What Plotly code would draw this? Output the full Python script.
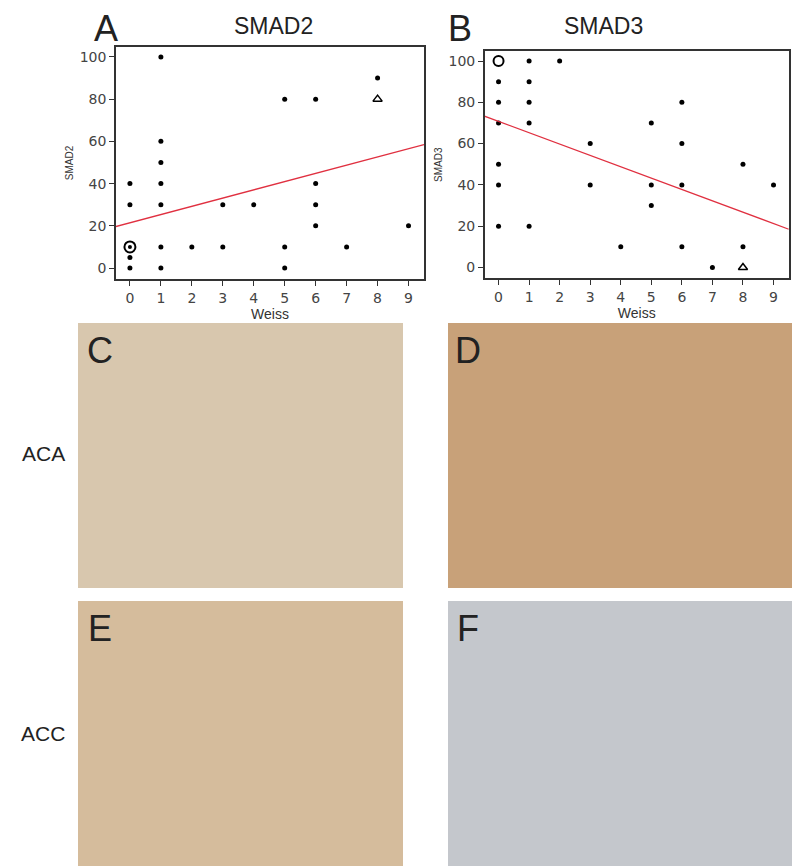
import plotly.graph_objects as go

# SMAD2 data (panel A)
a_x = [0,0,0,0,1,1,1,1,1,1,1,2,3,3,4,5,5,5,6,6,6,6,7,8,9]
a_y = [40,30,5,0,100,60,50,40,30,10,0,10,30,10,30,80,10,0,80,40,30,20,10,90,20]
a_circ_x = [0]; a_circ_y = [10]
a_tri_x = [8]; a_tri_y = [80]
a_line_x = [-0.5, 9.5]; a_line_y = [19.5, 58.5]

# SMAD3 data (panel B)
b_x = [0,0,0,0,0,0,1,1,1,1,1,2,3,3,4,5,5,5,6,6,6,6,7,8,8,9]
b_y = [90,80,70,50,40,20,100,90,80,70,20,100,60,40,10,70,40,30,80,60,40,10,0,50,10,40]
b_circ_x = [0]; b_circ_y = [100]
b_tri_x = [8]; b_tri_y = [0]
b_line_x = [-0.5, 9.5]; b_line_y = [73.5, 18.5]

ticks_x = list(range(10))
ticks_y = [0,20,40,60,80,100]

fig = go.Figure()
dot = dict(color='black', size=5)
fig.add_trace(go.Scatter(x=a_x, y=a_y, mode='markers', marker=dot, xaxis='x', yaxis='y'))
fig.add_trace(go.Scatter(x=a_circ_x, y=a_circ_y, mode='markers', marker=dict(color='black', size=4), xaxis='x', yaxis='y'))
fig.add_trace(go.Scatter(x=a_circ_x, y=a_circ_y, mode='markers', marker=dict(symbol='circle-open', color='black', size=11, line=dict(width=2)), xaxis='x', yaxis='y'))
fig.add_trace(go.Scatter(x=a_tri_x, y=a_tri_y, mode='markers', marker=dict(symbol='triangle-up-open', color='black', size=8, line=dict(width=1.5)), xaxis='x', yaxis='y'))
fig.add_trace(go.Scatter(x=a_line_x, y=a_line_y, mode='lines', line=dict(color='#e03040', width=1.3), xaxis='x', yaxis='y'))

fig.add_trace(go.Scatter(x=b_x, y=b_y, mode='markers', marker=dot, xaxis='x2', yaxis='y2'))
fig.add_trace(go.Scatter(x=b_circ_x, y=b_circ_y, mode='markers', marker=dict(symbol='circle-open', color='black', size=10, line=dict(width=2)), xaxis='x2', yaxis='y2'))
fig.add_trace(go.Scatter(x=b_tri_x, y=b_tri_y, mode='markers', marker=dict(symbol='triangle-up-open', color='black', size=8, line=dict(width=1.5)), xaxis='x2', yaxis='y2'))
fig.add_trace(go.Scatter(x=b_line_x, y=b_line_y, mode='lines', line=dict(color='#e03040', width=1.3), xaxis='x2', yaxis='y2'))

ax = dict(range=[-0.45, 9.5], tickvals=ticks_x, ticks='outside', ticklen=5, tickcolor='#333',
          showgrid=False, zeroline=False, showline=True, linecolor='#333', linewidth=1.5, mirror=True,
          tickfont=dict(family='DejaVu Sans', size=14, color='#444'),
          title=dict(text='Weiss', font=dict(family='Liberation Sans', size=14, color='#333'), standoff=0))
ay = dict(range=[-5.2, 104.7], tickvals=ticks_y, ticks='outside', ticklen=5, tickcolor='#333',
          showgrid=False, zeroline=False, showline=True, linecolor='#333', linewidth=1.5, mirror=True,
          tickfont=dict(family='DejaVu Sans', size=14, color='#444'))

fig.update_layout(
    width=800, height=866, margin=dict(l=0, r=0, t=0, b=0), showlegend=False,
    plot_bgcolor='white', paper_bgcolor='white',
    xaxis=dict(ax, domain=[0.135, 0.52], anchor='y'),
    yaxis=dict(ay, domain=[0.687, 0.955], anchor='x', title=dict(text='SMAD2', font=dict(family='Liberation Sans', size=10, color='#333'), standoff=4)),
    xaxis2=dict(ax, domain=[0.596, 0.976], anchor='y2'),
    yaxis2=dict(ay, domain=[0.688, 0.950], anchor='x2', title=dict(text='SMAD3', font=dict(family='Liberation Sans', size=10, color='#333'), standoff=4)),
)

# Photo panels (approximated by tinted rectangles)
photos = [(70,395,315,580,'#d8c7ae'), (440,793,315,580,'#c8a179'),
          (70,395,593,860,'#d5bc9c'), (440,793,593,860,'#c4c7cc')]
for x0,x1,y0,y1,c in photos:
    fig.add_shape(type='rect', xref='paper', yref='paper', x0=x0/800, x1=x1/800,
                  y0=1-y1/866, y1=1-y0/866, fillcolor=c, line=dict(width=0), layer='below')

def ann(text, x, y, size, color='#222'):
    fig.add_annotation(text=text, x=x/800, y=1-y/866, xref='paper', yref='paper', showarrow=False,
                       font=dict(family='Liberation Sans', size=size, color=color), xanchor='center', yanchor='middle')

ann('A', 98, 20, 36); ann('SMAD2', 265, 18, 23)
ann('B', 452, 20, 36); ann('SMAD3', 595, 18, 23)
for t,x,y in [('C',92,342),('D',460,342),('E',92,620),('F',460,620)]:
    ann(t, x, y, 36)
ann('ACA', 35, 445, 21); ann('ACC', 35, 725, 21)

fig.write_html('out.html')
